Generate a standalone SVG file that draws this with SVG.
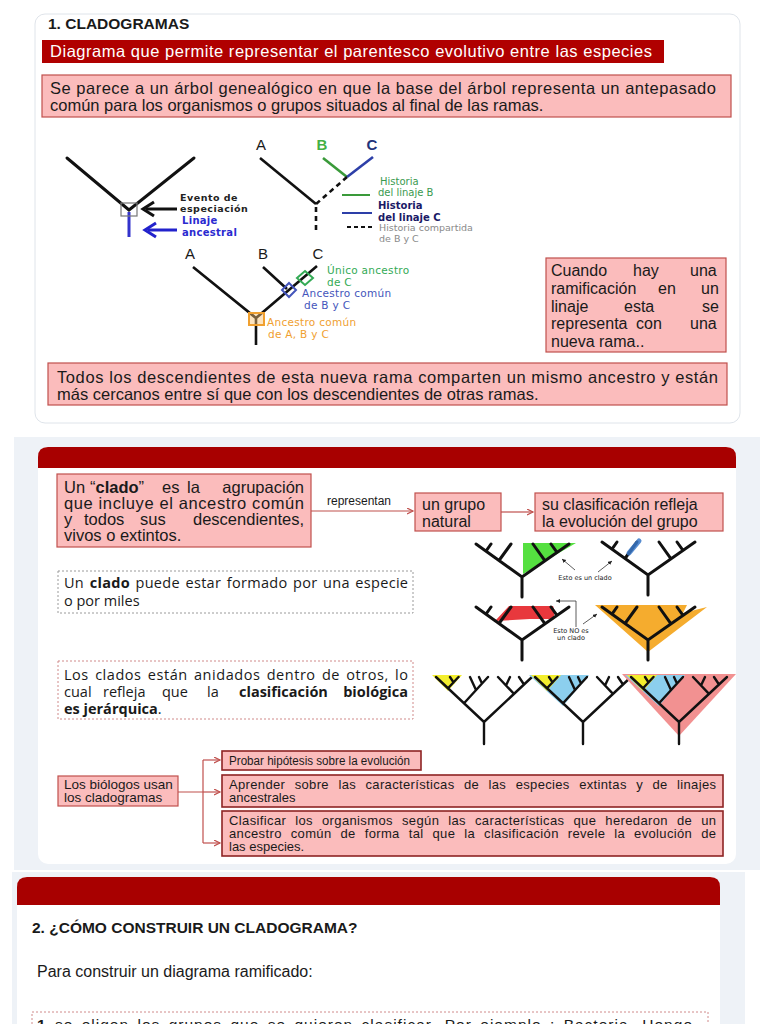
<svg xmlns="http://www.w3.org/2000/svg" width="768" height="1024" viewBox="0 0 768 1024">
<style>
.s{font-family:"Liberation Sans",Arial,sans-serif;fill:#1a1a1a}
.o{font-family:"Open Sans","Noto Sans",sans-serif;fill:#1a1a1a}
.v{font-family:"DejaVu Sans",Verdana,sans-serif}
.pink{fill:#fbbcbc;stroke:#c0504d;stroke-width:1.2}
.pink2{fill:#fbbcbc;stroke:#8e2424;stroke-width:1.6}
.br{stroke:#111;stroke-width:3;fill:none;stroke-linecap:round}
.br2{stroke:#111;stroke-width:2.4;fill:none;stroke-linecap:round}
.con{stroke:#c0504d;stroke-width:1.2;fill:none}
.dot{fill:none;stroke:#9a9a9a;stroke-width:1;stroke-dasharray:2 2}
.dotp{fill:none;stroke:#d08a8a;stroke-width:1;stroke-dasharray:2 2}
.ann{stroke:#333;stroke-width:0.8;fill:none}
</style>
<defs>
<marker id="ar" markerWidth="8" markerHeight="8" refX="6" refY="3" orient="auto" markerUnits="userSpaceOnUse"><path d="M0,0 L6,3 L0,6" fill="none" stroke="#c0504d" stroke-width="1.2"/></marker>
<marker id="ab" markerWidth="6" markerHeight="6" refX="4" refY="2" orient="auto" markerUnits="userSpaceOnUse"><path d="M0,0 L4,2 L0,4 Z" fill="#222"/></marker>
<path id="ct" d="M-46,-33 L0,0 L47,-33 M0,0 V20 M-36,-25.8 L-31,-33 M-23,-16.5 L-11,-33 M23,-16.2 L11,-33 M35,-24.6 L29,-33"/>
<path id="nt" d="M-48,-45 L0,0 L48,-45 M0,0 V22 M-36,-33.75 L-25.5,-45 M-30.5,-39.6 L-34,-45 M-20,-18.75 L4,-45 M-8,-31.9 L-14,-45 M-2,-38.5 L-5,-45 M30,-28.1 L14,-45 M22,-36.6 L26,-45 M40,-37.5 L35,-45"/>
</defs>

<rect width="768" height="1024" fill="#ffffff"/>
<rect x="14" y="437" width="746" height="433" fill="#eef2f7"/>
<rect x="12" y="872" width="733" height="152" fill="#eef2f7"/>

<!-- Card 1 -->
<rect x="35" y="14" width="705" height="409" rx="10" fill="#fff" stroke="#dfe4ea"/>
<text class="s" x="48" y="29" font-size="15.5" font-weight="bold">1. CLADOGRAMAS</text>

<g id="def-bar">
<rect x="42" y="40" width="622" height="23" fill="#b00000"/>
<text class="s" x="50" y="57" font-size="16.5" style="fill:#fff" textLength="602" lengthAdjust="spacing">Diagrama que permite representar el parentesco evolutivo entre las especies</text>
</g>
<g id="def-box">
<rect class="pink" x="42" y="75" width="689" height="42"/>
<text class="s" x="50" y="94" font-size="16.5" textLength="666" lengthAdjust="spacing">Se parece a un árbol genealógico en que la base del árbol representa un antepasado</text>
<text class="s" x="50" y="111" font-size="16.5">común para los organismos o grupos situados al final de las ramas.</text>
</g>

<g id="tree-speciation">
<path class="br" d="M67,158 L129,210 L194,158"/>
<line x1="129" y1="212" x2="129" y2="237" stroke="#3333cc" stroke-width="3"/>
<rect x="121" y="203" width="16" height="13" fill="none" stroke="#777" stroke-width="1.2"/>
<line x1="177" y1="209" x2="146" y2="209" stroke="#111" stroke-width="3"/>
<path d="M154,202 L143,209 L154,216" fill="none" stroke="#111" stroke-width="3"/>
<text class="v" x="180" y="201" font-size="9.5" font-weight="bold" fill="#222" letter-spacing="0.5">Evento de</text>
<text class="v" x="180" y="212" font-size="9.5" font-weight="bold" fill="#222" letter-spacing="0.5">especiación</text>
<line x1="177" y1="230" x2="148" y2="230" stroke="#2222cc" stroke-width="3"/>
<path d="M156,223 L145,230 L156,237" fill="none" stroke="#2222cc" stroke-width="3"/>
<text class="v" x="182" y="224" font-size="10" font-weight="bold" fill="#2a2ad0" letter-spacing="0.3">Linaje</text>
<text class="v" x="182" y="236" font-size="10" font-weight="bold" fill="#2a2ad0" letter-spacing="0.3">ancestral</text>
</g>

<g id="tree-history">
<text class="s" x="261" y="150" font-size="15" text-anchor="middle">A</text>
<text class="s" x="322" y="150" font-size="15" text-anchor="middle" font-weight="bold" style="fill:#44b044">B</text>
<text class="s" x="372" y="150" font-size="15" text-anchor="middle" font-weight="bold" style="fill:#22337a">C</text>
<path d="M260,158 L316,204" stroke="#111" stroke-width="2.6" fill="none"/>
<path d="M323,158 L347,177" stroke="#3a9a3a" stroke-width="2.6" fill="none"/>
<path d="M373,157 L347,177" stroke="#2d3fa8" stroke-width="2.6" fill="none"/>
<path d="M347,177 L316,204 M316,207 V231" stroke="#111" stroke-width="2.6" stroke-dasharray="5 4" fill="none"/>
<line x1="342" y1="195" x2="370" y2="195" stroke="#3a9a3a" stroke-width="2"/>
<line x1="342" y1="213" x2="372" y2="213" stroke="#2d3fa8" stroke-width="2"/>
<line x1="347" y1="227" x2="373" y2="227" stroke="#111" stroke-width="2" stroke-dasharray="4 3"/>
<text class="v" x="380" y="185" font-size="10" fill="#3a9a50">Historia</text>
<text class="v" x="378" y="196" font-size="10" fill="#3a9a50">del linaje B</text>
<text class="v" x="378" y="209" font-size="10" font-weight="bold" fill="#1a1a66">Historia</text>
<text class="v" x="378" y="221" font-size="10" font-weight="bold" fill="#1a1a66">del linaje C</text>
<text class="v" x="379" y="231" font-size="9.5" fill="#8a8a8a">Historia compartida</text>
<text class="v" x="379" y="242" font-size="9.5" fill="#8a8a8a">de B y C</text>
</g>

<g id="tree-ancestors">
<text class="s" x="190" y="259" font-size="15" text-anchor="middle">A</text>
<text class="s" x="263" y="259" font-size="15" text-anchor="middle">B</text>
<text class="s" x="318" y="259" font-size="15" text-anchor="middle">C</text>
<path d="M193,267 L256,318 L317,266 M263,267 L287,289 M256,318 V345" stroke="#111" stroke-width="2.6" fill="none"/>
<rect x="249" y="313" width="15" height="12" fill="#f8c070" fill-opacity="0.45" stroke="#f0a030" stroke-width="2"/>
<polygon points="289,283 296,290 289,297 282,290" fill="none" stroke="#4455bb" stroke-width="2"/>
<polygon points="305,271 313,278 305,285 297,278" fill="none" stroke="#33aa55" stroke-width="2"/>
<text class="v" x="327" y="274" font-size="10.5" fill="#33aa55" letter-spacing="0.3">Único ancestro</text>
<text class="v" x="327" y="286" font-size="10.5" fill="#33aa55" letter-spacing="0.3">de C</text>
<text class="v" x="302" y="297" font-size="10.5" fill="#4455bb" letter-spacing="0.3">Ancestro común</text>
<text class="v" x="304" y="309" font-size="10.5" fill="#4455bb" letter-spacing="0.3">de B y C</text>
<text class="v" x="267" y="326" font-size="10.5" fill="#f0a030" letter-spacing="0.3">Ancestro común</text>
<text class="v" x="268" y="338" font-size="10.5" fill="#f0a030" letter-spacing="0.3">de A, B y C</text>
</g>

<g id="branch-box">
<rect class="pink" x="546" y="258" width="180" height="94"/>
<text class="s" font-size="16" y="276"><tspan x="551">Cuando</tspan><tspan x="633">hay</tspan><tspan x="690">una</tspan></text>
<text class="s" font-size="16" y="293.75"><tspan x="551">ramificación</tspan><tspan x="658">en</tspan><tspan x="701">un</tspan></text>
<text class="s" font-size="16" y="311.5"><tspan x="551">linaje</tspan><tspan x="624">esta</tspan><tspan x="702">se</tspan></text>
<text class="s" font-size="16" y="329.25"><tspan x="551">representa</tspan><tspan x="636">con</tspan><tspan x="690">una</tspan></text>
<text class="s" font-size="16" x="551" y="347">nueva rama..</text>
</g>

<g id="descendants-box">
<rect class="pink" x="48" y="363" width="679" height="42"/>
<text class="s" x="57" y="383" font-size="16.5" textLength="661" lengthAdjust="spacing">Todos los descendientes de esta nueva rama comparten un mismo ancestro y están</text>
<text class="s" x="57" y="400" font-size="16.5">más cercanos entre sí que con los descendientes de otras ramas.</text>
</g>

<!-- Card 2 -->
<rect x="38" y="447" width="698" height="417" rx="10" fill="#fff"/>
<path d="M38,468 V457 Q38,447 48,447 H726 Q736,447 736,457 V468 Z" fill="#a80000"/>

<g id="clado-box">
<rect class="pink" x="57" y="474" width="254" height="73"/>
<text class="s" font-size="16.5" y="493"><tspan x="64">Un</tspan><tspan x="90">“</tspan><tspan font-weight="bold">clado</tspan><tspan>”</tspan><tspan x="162">es</tspan><tspan x="187">la</tspan><tspan x="304" text-anchor="end">agrupación</tspan></text>
<text class="s" x="64" y="509" font-size="16.5" textLength="240" lengthAdjust="spacing">que incluye el ancestro común</text>
<text class="s" font-size="16.5" y="525"><tspan x="64">y</tspan><tspan x="84">todos</tspan><tspan x="140">sus</tspan><tspan x="304" text-anchor="end">descendientes,</tspan></text>
<text class="s" x="64" y="541" font-size="16.5">vivos o extintos.</text>
</g>

<g id="grupo-box">
<rect class="pink" x="415" y="493" width="86" height="38"/>
<text class="s" x="422" y="510" font-size="16">un grupo</text>
<text class="s" x="422" y="527" font-size="16">natural</text>
</g>
<g id="clasif-box">
<rect class="pink" x="535" y="493" width="188" height="38"/>
<text class="s" x="542" y="510" font-size="16">su clasificación refleja</text>
<text class="s" x="542" y="527" font-size="16">la evolución del grupo</text>
</g>

<g id="connectors">
<line class="con" x1="311" y1="511" x2="413" y2="511" marker-end="url(#ar)"/>
<text class="s" x="327" y="505" font-size="12">representan</text>
<line class="con" x1="501" y1="512" x2="533" y2="512" marker-end="url(#ar)"/>
<path class="con" d="M178,792 H203 M203,760 V843"/>
<line class="con" x1="203" y1="760" x2="220" y2="760" marker-end="url(#ar)"/>
<line class="con" x1="203" y1="792" x2="220" y2="792" marker-end="url(#ar)"/>
<line class="con" x1="203" y1="843" x2="220" y2="843" marker-end="url(#ar)"/>
<path class="ann" d="M575,570 L562,559" marker-end="url(#ab)"/>
<path class="ann" d="M598,572 L612,561" marker-end="url(#ab)"/>
<path class="ann" d="M576,627 V601 H556" marker-end="url(#ab)"/>
<path class="ann" d="M583,624 L597,614" marker-end="url(#ab)"/>
</g>

<g id="clade-green">
<polygon points="523,543 576,543 523,574" fill="#55e040"/>
<use href="#ct" x="522" y="577" class="br"/>
</g>
<g id="clade-blue">
<use href="#ct" x="648" y="575" class="br"/>
<line x1="629" y1="553" x2="639" y2="541" stroke="#3a78c8" stroke-width="5" stroke-opacity="0.85" stroke-linecap="round"/>
</g>
<text class="v" x="585" y="580" font-size="6.5" text-anchor="middle" fill="#222">Esto es un clado</text>
<g id="clade-red">
<polygon points="495,621 509,606 553,606 555,612 553,619 530,619" fill="#e8383d"/>
<use href="#ct" x="522" y="640" class="br"/>
</g>
<g id="clade-orange">
<polygon points="595,605 687,605 683,613 707,607 648,652" fill="#f5ac2e"/>
<use href="#ct" x="648" y="640" class="br"/>
</g>
<text class="v" x="571" y="633" font-size="6.5" text-anchor="middle" fill="#222">Esto NO es</text>
<text class="v" x="571" y="640" font-size="6.5" text-anchor="middle" fill="#222">un clado</text>

<g id="one-or-many">
<rect class="dot" x="58" y="571" width="355" height="42"/>
<text class="o" x="64" y="588" font-size="14.5" word-spacing="1.5" textLength="344" lengthAdjust="spacing">Un <tspan font-weight="bold">clado</tspan> puede estar formado por una especie</text>
<text class="o" x="64" y="606" font-size="14.5">o por miles</text>
</g>

<g id="nested-box">
<rect class="dotp" x="58" y="661" width="355" height="58"/>
<text class="o" x="64" y="680" font-size="14.5" word-spacing="2" textLength="344" lengthAdjust="spacing">Los clados están anidados dentro de otros, lo</text>
<text class="o" font-size="14.5" y="697"><tspan x="64">cual</tspan><tspan x="103">refleja</tspan><tspan x="162">que</tspan><tspan x="207">la</tspan><tspan x="239" font-weight="bold">clasificación</tspan><tspan x="408" text-anchor="end" font-weight="bold">biológica</tspan></text>
<text class="o" x="64" y="714" font-size="14.5"><tspan font-weight="bold">es jerárquica</tspan>.</text>
</g>

<g id="nested-1" transform="translate(484,722)">
<polygon points="-52,-47 -22,-47 -36,-31" fill="#f3ee2e"/>
<use href="#nt" class="br2"/>
</g>
<g id="nested-2" transform="translate(583,722)">
<polygon points="-54,-47 6,-47 -20,-16" fill="#8ccfee"/>
<polygon points="-52,-47 -22,-47 -36,-31" fill="#f3ee2e"/>
<use href="#nt" class="br2"/>
</g>
<g id="nested-3" transform="translate(679,722)">
<polygon points="-57,-48 57,-48 0,14" fill="#f29191"/>
<polygon points="-54,-47 6,-47 -20,-16" fill="#8ccfee"/>
<polygon points="-52,-47 -22,-47 -36,-31" fill="#f3ee2e"/>
<use href="#nt" class="br2"/>
</g>

<g id="biologos-box">
<rect class="pink" x="58" y="776" width="120" height="30"/>
<text class="s" x="64" y="789" font-size="13.5">Los biólogos usan</text>
<text class="s" x="64" y="802" font-size="13.5">los cladogramas</text>
</g>
<g id="use-1">
<rect class="pink2" x="222" y="751" width="199" height="19"/>
<text class="s" x="229" y="765" font-size="12" textLength="181" lengthAdjust="spacingAndGlyphs">Probar hipótesis sobre la evolución</text>
</g>
<g id="use-2">
<rect class="pink2" x="222" y="775" width="501" height="32"/>
<text class="s" x="229" y="789" font-size="13" word-spacing="5.5" textLength="487" lengthAdjust="spacing">Aprender sobre las características de las especies extintas y de linajes</text>
<text class="s" x="229" y="802" font-size="13">ancestrales</text>
</g>
<g id="use-3">
<rect class="pink2" x="222" y="811" width="501" height="45"/>
<text class="s" x="229" y="825" font-size="13" word-spacing="5" textLength="487" lengthAdjust="spacing">Clasificar los organismos según las características que heredaron de un</text>
<text class="s" x="229" y="838" font-size="13" word-spacing="5" textLength="487" lengthAdjust="spacing">ancestro común de forma tal que la clasificación revele la evolución de</text>
<text class="s" x="229" y="851" font-size="13">las especies.</text>
</g>

<!-- Card 3 -->
<rect x="17" y="877" width="703" height="160" rx="10" fill="#fff"/>
<path d="M17,905 V887 Q17,877 27,877 H710 Q720,877 720,887 V905 Z" fill="#a80000"/>
<text class="s" x="32" y="933" font-size="15.5" font-weight="bold">2. ¿CÓMO CONSTRUIR UN CLADOGRAMA?</text>
<text class="s" x="37" y="977" font-size="16">Para construir un diagrama ramificado:</text>
<g id="step-1">
<rect class="dotp" x="32" y="1012" width="676" height="40"/>
<text class="s" x="37" y="1030" font-size="15.5" word-spacing="3" textLength="655" lengthAdjust="spacing"><tspan font-weight="bold">1</tspan> se eligen los grupos que se quieren clasificar. Por ejemplo : Bacteria, Hongo</text>
</g>
</svg>
